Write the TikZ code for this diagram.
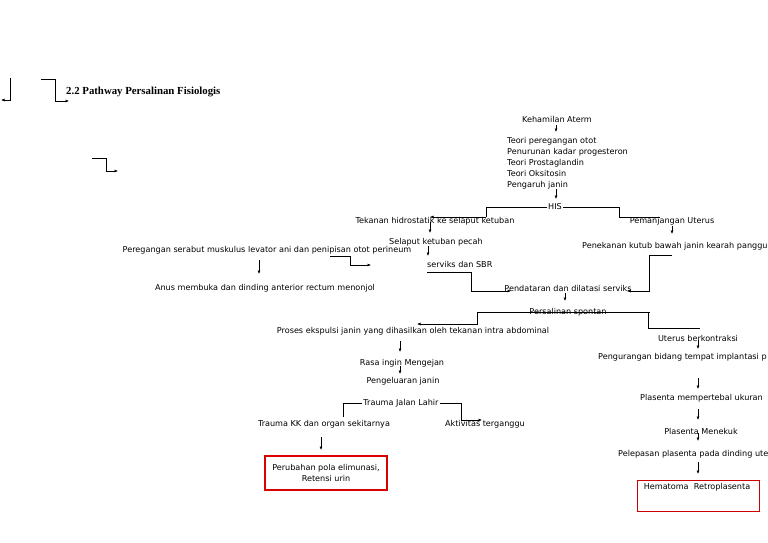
\documentclass[tikz,border=0pt]{standalone}
\usepackage{fontspec}
\setmainfont{DejaVu Sans}
\newfontfamily\titlefont{Liberation Serif}
\usetikzlibrary{arrows.meta}
\begin{document}
\begin{tikzpicture}[x=1pt,y=-1pt,
  t/.style={inner sep=0pt,font=\fontsize{8.1}{11}\selectfont},
  tl/.style={t,anchor=west},
  ar/.style={-{Latex[length=3.5pt,width=3pt]},line width=0.6pt},
  ln/.style={line width=0.6pt},
  redbox/.style={draw=red!85!black,line width=1.1pt}]
\useasboundingbox (0,0) rectangle (768,543);
\fill[white] (0,0) rectangle (768,543);
% title and decorations
\node[anchor=west,inner sep=0pt,font=\titlefont\bfseries\fontsize{10.8}{12}\selectfont] (title) at (66,92) {2.2 Pathway Persalinan Fisiologis};
\coordinate (d1a) at (10,78); \coordinate (d1b) at (1,100);
\draw[ar] (d1a) -- (10,100) -- (d1b);
\coordinate (d2a) at (41,79); \coordinate (d2b) at (69,101);
\draw[ar] (d2a) -- (55,79) -- (55,101) -- (d2b);
\coordinate (d3a) at (92,158); \coordinate (d3b) at (118,171);
\draw[ar] (d3a) -- (106,158) -- (106,171) -- (d3b);
% nodes
\node[t] (keh) at (557,119) {Kehamilan Aterm};
\node[tl,align=left] (teori) at (507,163) {Teori peregangan otot\\Penurunan kadar progesteron\\Teori Prostaglandin\\Teori Oksitosin\\Pengaruh janin};
\node[t] (his) at (555,207) {HIS};
\node[t] (tek) at (435,221) {Tekanan hidrostatik ke selaput ketuban};
\node[t] (pem) at (672,221) {Pemanjangan Uterus};
\node[t] (sel) at (436,242) {Selaput ketuban pecah};
\node[t] (per) at (267,250) {Peregangan serabut muskulus levator ani dan penipisan otot perineum};
\node[tl] (pen) at (582,246) {Penekanan kutub bawah janin kearah panggu};
\node[tl] (ser) at (427,264) {serviks dan SBR};
\node[t] (anus) at (265,288) {Anus membuka dan dinding anterior rectum menonjol};
\node[t] (pend) at (568,288) {Pendataran dan dilatasi serviks};
\node[t] (pers) at (568,312) {Persalinan spontan};
\node[t] (pros) at (413,331) {Proses ekspulsi janin yang dihasilkan oleh tekanan intra abdominal};
\node[t] (ut) at (698,338) {Uterus berkontraksi};
\node[tl] (peng) at (598,357) {Pengurangan bidang tempat implantasi p};
\node[t] (rasa) at (402,363) {Rasa ingin Mengejan};
\node[t] (pjan) at (403,381) {Pengeluaran janin};
\node[tl] (pmu) at (640,398) {Plasenta mempertebal ukuran};
\node[t] (tjl) at (401,403) {Trauma Jalan Lahir};
\node[t] (tkk) at (324,424) {Trauma KK dan organ sekitarnya};
\node[t] (akt) at (485,424) {Aktivitas terganggu};
\node[t] (pmk) at (701,431) {Plasenta Menekuk};
\node[tl] (pel) at (618,454) {Pelepasan plasenta pada dinding ute};
\node[redbox,t,minimum width=122pt,minimum height=34pt,align=center] (peru) at (326,473) {Perubahan pola elimunasi,\\Retensi urin};
\draw[red!80!black,line width=0.6pt] (637,480) rectangle (759,511);
\node[t] (hem) at (697,487) {Hematoma\ \ Retroplasenta};
% connectors
\draw[ar] (556,125) -- (556,132);
\draw[ar] (556,189) -- (556,199);
\draw[ln] (547,207) -- (486,207) -- (486,217);
\draw[ar] (486,217) -- (430,217);
\draw[ln] (563,207) -- (619,207) -- (619,217) -- (660,217);
\draw[ar] (430,222) -- (430,233);
\draw[ar] (428,246) -- (428,256);
\draw[ar] (672,226) -- (672,234);
\draw[ar] (330,256) -- (350,256) -- (350,265) -- (371,265);
\draw[ar] (259,260) -- (259,274);
\draw[ar] (427,272) -- (471,272) -- (471,291) -- (511,291);
\draw[ar] (672,255) -- (649,255) -- (649,291) -- (627,291);
\draw[ar] (565,293) -- (565,301);
\draw[ln] (650,312) -- (477,312);
\draw[ar] (477,312) -- (477,324) -- (417,324);
\draw[ln] (648,312) -- (648,328) -- (700,328);
\draw[ar] (698,340) -- (698,349);
\draw[ar] (400,341) -- (400,352);
\draw[ar] (400,366) -- (400,374);
\draw[ln] (362,403) -- (343,403) -- (343,417);
\draw[ar] (440,403) -- (461,403) -- (461,420) -- (482,420);
\draw[ar] (321,437) -- (321,450);
\draw[ar] (698,378) -- (698,389);
\draw[ar] (698,409) -- (698,420);
\draw[ar] (698,433) -- (698,441);
\draw[ar] (698,462) -- (698,474);
\end{tikzpicture}
\end{document}
